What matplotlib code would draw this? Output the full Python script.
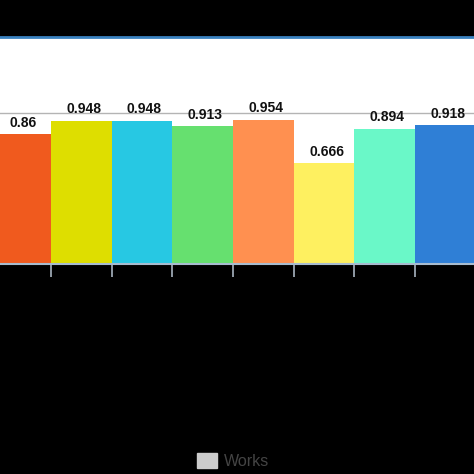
import matplotlib
matplotlib.use("Agg")
import matplotlib.pyplot as plt
from matplotlib.patches import Patch

categories = ["A", "B", "C", "D", "E", "F", "G", "H"]
values = [0.86, 0.948, 0.948, 0.913, 0.954, 0.666, 0.894, 0.918]
colors = ["#f05a1e", "#dede00", "#27c8e3", "#66e06f", "#ff9050", "#fef060", "#6af8c8", "#2f7fd6"]
labels = ["0.86", "0.948", "0.948", "0.913", "0.954", "0.666", "0.894", "0.918"]
series_name = "Works"

plt.rcParams['font.family'] = ['Liberation Sans', 'DejaVu Sans']

fig = plt.figure(figsize=(4.74, 4.74), dpi=100, facecolor="black")
ax = fig.add_axes([0, 1 - 264/474, 1, 227/474])
ax.set_facecolor("white")

x = list(range(len(categories)))
bars = ax.bar(x, values, width=1.0, color=colors, zorder=2)
for xi, v, lab in zip(x, values, labels):
    ax.text(xi + 0.04, v + 0.028, lab, ha="center", va="bottom",
            fontsize=10, fontweight="bold", color="#111111")

ax.set_xlim(-0.34, 7.47)
ax.set_ylim(0, 1.5)
ax.axhline(1.0, color="#b4b4b4", lw=1, zorder=1)

ax.set_xticks([i + 0.5 for i in range(len(categories) - 1)])
ax.set_xticklabels([])
ax.set_yticks([])
ax.tick_params(axis="x", direction="out", length=9.5, width=1.2, color="#a8b4c0")

for s in ["left", "right"]:
    ax.spines[s].set_visible(False)
ax.spines["top"].set_color("#3a82c0")
ax.spines["top"].set_linewidth(2)
ax.spines["bottom"].set_color("#a8bccf")
ax.spines["bottom"].set_linewidth(1.5)

fig.legend(handles=[Patch(facecolor="#cccccc", edgecolor="#cccccc", label=series_name)],
           loc="center", bbox_to_anchor=(233/474, 1 - 461/474), frameon=False,
           fontsize=11.5, labelcolor="#444444", handlelength=1.25, handleheight=1.1,
           handletextpad=0.45)

fig.savefig("out.png", dpi=100, facecolor="black")
